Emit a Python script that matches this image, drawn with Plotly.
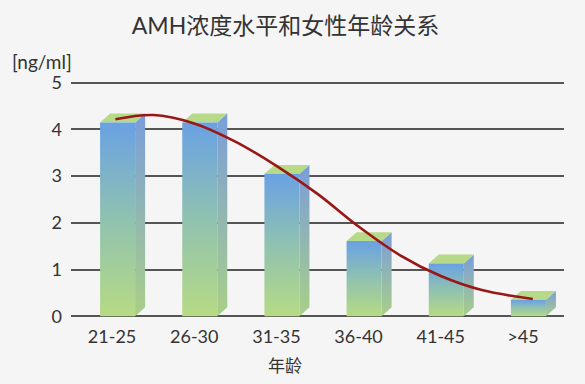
import plotly.graph_objects as go

# ---- data ----
categories = ["21-25", "26-30", "31-35", "36-40", "41-45", ">45"]
amh_values = [4.15, 4.15, 3.05, 1.61, 1.13, 0.35]
y_ticks = [0, 1, 2, 3, 4, 5]
trend_x = [0.04, 0.5, 1.0, 1.5, 2.0, 2.5, 3.0, 3.5, 4.0, 4.5, 5.12]
trend_y = [4.22, 4.31, 4.13, 3.74, 3.22, 2.62, 1.92, 1.31, 0.86, 0.56, 0.37]

title_text = "AMH浓度水平和女性年龄关系"
unit_text = "[ng/ml]"
xlabel_text = "年龄"

# ---- style ----
FRONT_OFF = 0.067   # front face centre offset from category (x units)
HALF_W = 0.213      # half width of front face
DX = 0.122          # depth, x
DY = 0.19           # depth, y
BG = "#f5f5f5"
FONT = "Lato, Noto Sans CJK SC, sans-serif"
PAD = 0.06          # range padding so edge gridlines are drawn

fig = go.Figure()

for i, v in enumerate(amh_values):
    xl = i + FRONT_OFF - HALF_W
    xr = i + FRONT_OFF + HALF_W
    # side face
    fig.add_trace(go.Scatter(
        x=[xr, xr + DX, xr + DX, xr, xr], y=[0, DY, v + DY, v, 0],
        mode="lines", line=dict(width=0), fill="toself",
        fillgradient=dict(type="vertical",
                          colorscale=[[0, "#a9cf88"], [1, "#7a9ddb"]]),
        hoverinfo="skip", showlegend=False))
    # top face
    fig.add_trace(go.Scatter(
        x=[xl, xr, xr + DX, xl + DX, xl], y=[v, v, v + DY, v + DY, v],
        mode="lines", line=dict(width=0), fill="toself",
        fillcolor="#b7da88",
        hoverinfo="skip", showlegend=False))
    # front face
    fig.add_trace(go.Scatter(
        x=[xl, xr, xr, xl, xl], y=[0, 0, v, v, 0],
        mode="lines", line=dict(width=0), fill="toself",
        fillgradient=dict(type="vertical",
                          colorscale=[[0, "#b6da84"], [0.5, "#90c2b0"], [1, "#69a1e4"]]),
        hoverinfo="skip", showlegend=False))

# trend curve
fig.add_trace(go.Scatter(
    x=trend_x, y=trend_y, mode="lines",
    line=dict(color="#9a1717", width=2.6, shape="spline", smoothing=1.0),
    hoverinfo="skip", showlegend=False))

W, H = 585, 384
unit_px = 233 / 5
m_t = round(83 - PAD * unit_px)
m_b = round(68 - PAD * unit_px)
plot_h = H - m_t - m_b
bottom_px = H - m_b


def py(p):
    """pixel row -> paper y"""
    return (bottom_px - p) / plot_h


fig.update_layout(
    width=W, height=H,
    margin=dict(l=71, r=21, t=m_t, b=m_b),
    paper_bgcolor=BG, plot_bgcolor=BG,
    font=dict(family=FONT, color="#333333", size=18),
    title=dict(text=title_text, x=0.488, xanchor="center", y=1 - 26 / H,
               yanchor="middle", font=dict(size=23, color="#333333", family=FONT)),
    xaxis=dict(range=[-0.5, 5.5], tickmode="array",
               tickvals=list(range(len(categories))), ticktext=categories,
               showgrid=False, zeroline=False, showline=False,
               ticks="outside", ticklen=1, tickcolor="rgba(0,0,0,0)",
               tickfont=dict(size=18, color="#333333"), fixedrange=True),
    yaxis=dict(range=[-PAD, 5 + PAD], tickmode="array", tickvals=y_ticks,
               showgrid=True, gridcolor="#555555", gridwidth=2,
               zeroline=False, showline=False, ticklabelstandoff=8,
               tickfont=dict(size=18, color="#333333"), fixedrange=True),
    annotations=[
        dict(text=unit_text, xref="paper", yref="paper",
             x=(41.5 - 71) / 493, y=py(62),
             xanchor="center", yanchor="middle", showarrow=False,
             font=dict(size=19, color="#333333")),
        dict(text=xlabel_text, xref="paper", yref="paper",
             x=(285 - 71) / 493, y=py(365),
             xanchor="center", yanchor="middle", showarrow=False,
             font=dict(size=17, color="#333333")),
    ],
)

fig.write_html("out.html")
